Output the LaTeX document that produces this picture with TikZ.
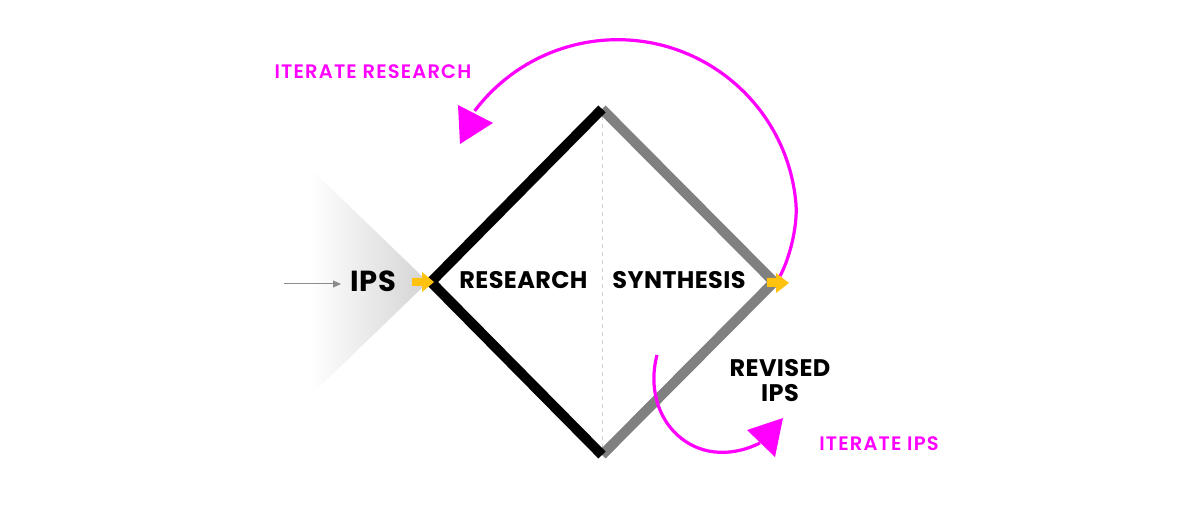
\documentclass[tikz,border=0pt]{standalone}
\usepackage{fontspec}
\setmainfont{Poppins}
\newfontfamily\popbold{Poppins Bold}[LetterSpace=1.5]
\newfontfamily\popsemi{Poppins SemiBold}[LetterSpace=6]
\usetikzlibrary{arrows.meta}
\definecolor{mag}{RGB}{255,0,255}
\definecolor{yel}{RGB}{255,194,14}
\definecolor{edgegray}{RGB}{128,128,128}
\definecolor{ipsarrow}{RGB}{140,140,140}
\tikzset{
  blacklabel/.style={font=\popbold\fontsize{24}{24}\selectfont, text=black, inner sep=0pt, anchor=base},
  maglabel/.style={font=\popsemi\fontsize{19.5}{19.5}\selectfont, text=mag, inner sep=0pt, anchor=base},
  loopline/.style={mag, line width=3.2pt, line cap=butt},
  yellowtip/.style={fill=yel},
}
\begin{document}
\begin{tikzpicture}[x=1pt,y=-1pt]
\useasboundingbox (0,0) rectangle (1200,518);
% gradient wedge
\shade[left color=white, right color=black!17] (310,168) -- (428,282) -- (310,396) -- cycle;
% diamond
\coordinate (L) at (431,282);
\coordinate (T) at (602,109);
\coordinate (R) at (774,282);
\coordinate (B) at (602,455);
\coordinate (dt) at (602,116);
\coordinate (db) at (602,450);
\draw[gray!35, line width=1pt, dash pattern=on 4pt off 4pt] (dt) -- (db);
\draw[edgegray, line width=10pt, line join=miter] (T) -- (R) -- (B);
\draw[black, line width=10pt, line join=miter] (B) -- (L) -- (T);
% incoming IPS arrow
\coordinate (a0) at (284,284);
\coordinate (a1) at (341,284);
\draw[ipsarrow, line width=1pt, -{Triangle[length=8pt,width=7pt]}] (a0) -- (a1);
% loop arrows
\draw[loopline] (780,276) .. controls (788,262) and (798.1,228) .. (795.9,203.1) arc[start angle=-5, end angle=-143, radius=179];
\fill[mag] (458,105) -- (493,123) -- (460,144) -- cycle;
\draw[loopline] (657,355) .. controls (640,420) and (695,475) .. (760,443);
\fill[mag] (747,430) -- (783,418) -- (775,457) -- cycle;
% yellow arrows
\fill[yellowtip] (412,278) -- (422,278) -- (422,272) -- (434,282) -- (422,292) -- (422,286) -- (412,286) -- cycle;
\fill[yellowtip] (767,278) -- (776,278) -- (776,273) -- (789,283) -- (776,293) -- (776,287) -- (767,287) -- cycle;
% labels
\node[blacklabel, font=\popbold\fontsize{29}{29}\selectfont] (ips) at (373.5,292) {IPS};
\node[blacklabel] (research) at (523.5,289) {RESEARCH};
\node[blacklabel] (synthesis) at (679,289) {SYNTHESIS};
\node[blacklabel] (revised) at (780,377) {REVISED};
\node[blacklabel] (revips) at (780,402) {IPS};
\node[maglabel] (itres) at (373,79) {ITERATE RESEARCH};
\node[maglabel] (itips) at (879,451) {ITERATE IPS};
\end{tikzpicture}
\end{document}
